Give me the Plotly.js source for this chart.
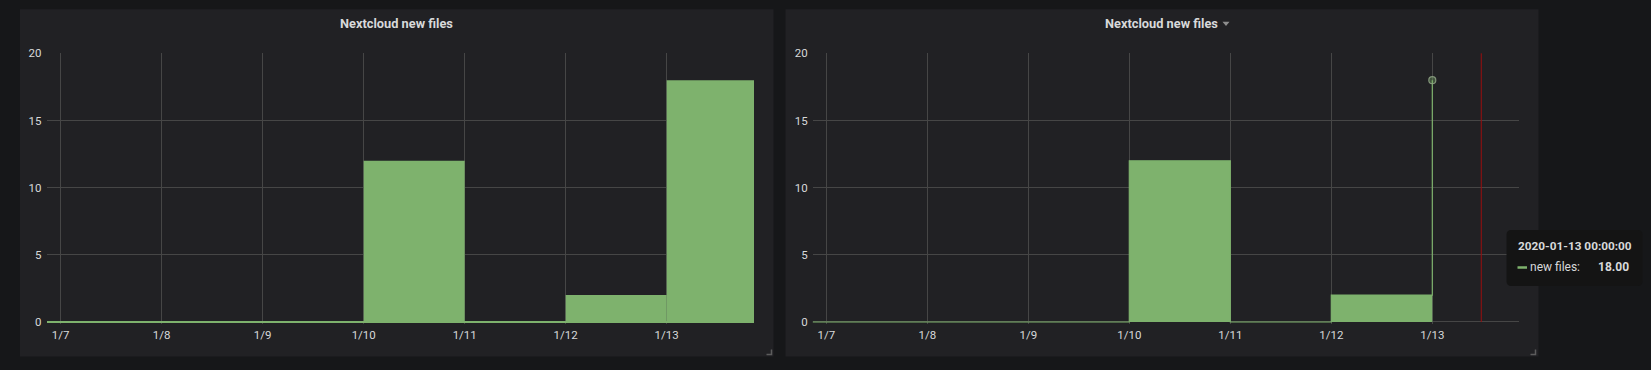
<!DOCTYPE html>
<html>
<head>
<meta charset="utf-8">
<script src="https://cdn.plot.ly/plotly-3.0.1.min.js"></script>
<style>
  html, body { margin: 0; padding: 0; background: #161719; }
  #chart { width: 1651px; height: 370px; }
</style>
</head>
<body>
<div id="chart"></div>
<script>
// ---- data ----
const dates = ['2020-01-06', '2020-01-07', '2020-01-08', '2020-01-09', '2020-01-10', '2020-01-11', '2020-01-12', '2020-01-13'];
const newFiles = [0, 0, 0, 0, 12, 0, 2, 18];
const tickDates = ['2020-01-07', '2020-01-08', '2020-01-09', '2020-01-10', '2020-01-11', '2020-01-12', '2020-01-13'];
const tickLabels = ['1/7', '1/8', '1/9', '1/10', '1/11', '1/12', '1/13'];
const yTicks = [0, 5, 10, 15, 20];
const panelTitle = 'Nextcloud new files';
const seriesName = 'new files';
const hoverTime = '2020-01-13 11:38';

// ---- layout helpers ----
const W = 1651, H = 370;
const px = x => x / W;
const py = y => 1 - y / H;
const GREEN = '#7eb26d';
const TEXT = '#d8d9da';
const GRID = '#464646';
const FONT = 'Roboto, "Noto Sans", sans-serif';

const yDomain = [py(324.0), py(53.3)];

function xAxis(domain, range, anchor) {
  return {
    type: 'date', domain: domain, range: range, anchor: anchor,
    tickmode: 'array', tickvals: tickDates, ticktext: tickLabels,
    showgrid: true, gridcolor: GRID, gridwidth: 1,
    zeroline: false, showline: false, ticks: '', ticklabelstandoff: 2,
    tickfont: { family: FONT, size: 11.5, color: TEXT },
    fixedrange: true
  };
}
function yAxis(anchor, zeroline) {
  return {
    domain: yDomain, range: [-0.15, 20], anchor: anchor,
    tickmode: 'array', tickvals: yTicks,
    showgrid: true, gridcolor: GRID, gridwidth: 1,
    zeroline: zeroline, zerolinecolor: GREEN, zerolinewidth: 2,
    showline: false, ticks: '', ticklabelstandoff: 4,
    tickfont: { family: FONT, size: 11.5, color: TEXT },
    fixedrange: true
  };
}

const last = dates.length - 1;

const traces = [
  { // left panel: bars
    type: 'bar', x: dates, y: newFiles, xaxis: 'x', yaxis: 'y',
    offset: 0, width: 86400000,
    marker: { color: GREEN, line: { width: 0 } },
    hoverinfo: 'skip', showlegend: false
  },
  { // right panel: staircase line with fill
    type: 'scatter', mode: 'lines', x: dates, y: newFiles, xaxis: 'x2', yaxis: 'y2',
    line: { shape: 'hv', color: GREEN, width: 1.2 },
    fill: 'tozeroy', fillcolor: GREEN,
    hoverinfo: 'skip', showlegend: false
  },
  { // hovered point marker
    type: 'scatter', mode: 'markers', x: [dates[last]], y: [newFiles[last]], xaxis: 'x2', yaxis: 'y2',
    marker: { symbol: 'circle', size: 7, color: 'rgba(126,178,109,0.35)', line: { width: 1.2, color: 'rgba(140,160,130,0.9)' } },
    cliponaxis: false, hoverinfo: 'skip', showlegend: false
  }
];

function roundRect(x0, y0, x1, y1, r) {
  const X = v => px(v), Y = v => py(v);
  return 'M' + X(x0 + r) + ',' + Y(y0) +
    ' L' + X(x1 - r) + ',' + Y(y0) + ' Q' + X(x1) + ',' + Y(y0) + ' ' + X(x1) + ',' + Y(y0 + r) +
    ' L' + X(x1) + ',' + Y(y1 - r) + ' Q' + X(x1) + ',' + Y(y1) + ' ' + X(x1 - r) + ',' + Y(y1) +
    ' L' + X(x0 + r) + ',' + Y(y1) + ' Q' + X(x0) + ',' + Y(y1) + ' ' + X(x0) + ',' + Y(y1 - r) +
    ' L' + X(x0) + ',' + Y(y0 + r) + ' Q' + X(x0) + ',' + Y(y0) + ' ' + X(x0 + r) + ',' + Y(y0) + ' Z';
}
function handle(xr, yb) {
  return 'M' + px(xr) + ',' + py(yb - 5) + ' L' + px(xr) + ',' + py(yb) + ' L' + px(xr - 5) + ',' + py(yb);
}

const shapes = [
  // panels
  { type: 'rect', xref: 'paper', yref: 'paper', x0: px(20), x1: px(773.5), y0: py(356.5), y1: py(9.3),
    fillcolor: '#212124', line: { width: 0 }, layer: 'below' },
  { type: 'rect', xref: 'paper', yref: 'paper', x0: px(785.5), x1: px(1538.5), y0: py(356.5), y1: py(9.3),
    fillcolor: '#212124', line: { width: 0 }, layer: 'below' },
  // resize handles
  { type: 'path', xref: 'paper', yref: 'paper', path: handle(771.5, 354.5), line: { color: '#5c5c5c', width: 1.5 } },
  { type: 'path', xref: 'paper', yref: 'paper', path: handle(1535.5, 354.5), line: { color: '#5c5c5c', width: 1.5 } },
  // title caret on right panel
  { type: 'path', xref: 'paper', yref: 'paper',
    path: 'M' + px(1222.5) + ',' + py(21.8) + ' L' + px(1229.5) + ',' + py(21.8) + ' L' + px(1226) + ',' + py(26) + ' Z',
    fillcolor: '#8e8e8e', line: { width: 0 } },
  // crosshair
  { type: 'line', xref: 'x2', yref: 'paper', x0: hoverTime, x1: hoverTime, y0: py(322), y1: py(53.3),
    line: { color: '#9a0e0e', width: 1 } },
  // tooltip box
  { type: 'path', xref: 'paper', yref: 'paper', path: roundRect(1506.5, 230, 1642.5, 286, 5),
    fillcolor: '#141414', line: { width: 0 } },
  // tooltip legend dash
  { type: 'line', xref: 'paper', yref: 'paper', x0: px(1517.5), x1: px(1527), y0: py(267.5), y1: py(267.5),
    line: { color: GREEN, width: 2.5 } }
];

const annotations = [
  { xref: 'paper', yref: 'paper', x: px(396.7), y: py(23.5), text: panelTitle, showarrow: false,
    xanchor: 'center', yanchor: 'middle', font: { family: FONT, size: 12.8, color: TEXT, weight: 'bold' } },
  { xref: 'paper', yref: 'paper', x: px(1161.7), y: py(23.5), text: panelTitle, showarrow: false,
    xanchor: 'center', yanchor: 'middle', font: { family: FONT, size: 12.8, color: TEXT, weight: 'bold' } },
  // tooltip
  { xref: 'paper', yref: 'paper', x: px(1516.3), y: py(246), text: '<b>' + dates[last] + ' 00:00:00</b>', showarrow: false,
    xanchor: 'left', yanchor: 'middle', font: { family: FONT, size: 11.8, color: TEXT } },
  { xref: 'paper', yref: 'paper', x: px(1528.3), y: py(267), text: seriesName + ':', showarrow: false,
    xanchor: 'left', yanchor: 'middle', font: { family: FONT, size: 12, color: TEXT } },
  { xref: 'paper', yref: 'paper', x: px(1630.5), y: py(267), text: '<b>' + newFiles[last].toFixed(2) + '</b>', showarrow: false,
    xanchor: 'right', yanchor: 'middle', font: { family: FONT, size: 12, color: TEXT } }
];

const layout = {
  width: W, height: H,
  margin: { l: 0, r: 0, t: 0, b: 0, pad: 0 },
  paper_bgcolor: '#161719', plot_bgcolor: 'rgba(0,0,0,0)',
  showlegend: false,
  xaxis: xAxis([px(46.5), px(754)], ['2020-01-06 20:37:30', '2020-01-13 20:45'], 'y'),
  yaxis: yAxis('x', true),
  xaxis2: xAxis([px(812.8), px(1519)], ['2020-01-06 20:47:30', '2020-01-13 20:36'], 'y2'),
  yaxis2: yAxis('x2', false),
  shapes: shapes,
  annotations: annotations,
  font: { family: FONT, color: TEXT },
  hovermode: false
};

Plotly.newPlot('chart', traces, layout, { displayModeBar: false, staticPlot: true });
</script>
</body>
</html>
